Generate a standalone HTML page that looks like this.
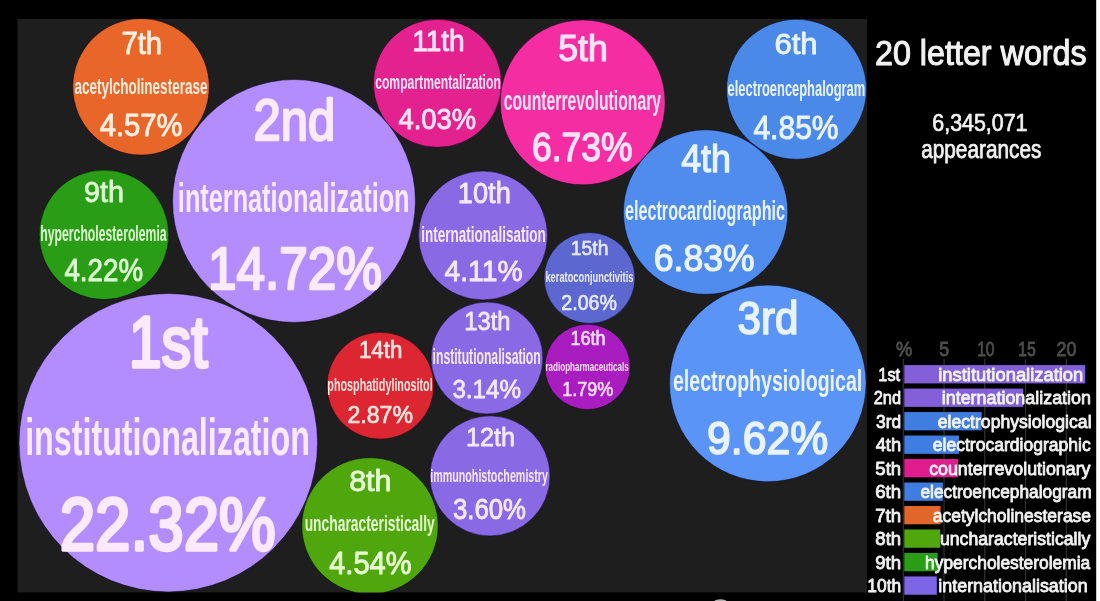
<!DOCTYPE html>
<html lang="en"><head><meta charset="utf-8"><title>20 letter words</title>
<style>
html,body{margin:0;padding:0;background:#000;overflow:hidden}
svg{display:block;font-family:"Liberation Sans",sans-serif}
</style></head>
<body>
<svg width="1100" height="601" viewBox="0 0 1100 601">
<defs><filter id="soft" x="-2%" y="-2%" width="104%" height="104%"><feGaussianBlur stdDeviation="0.45"/></filter><clipPath id="panel"><rect x="17.6" y="19" width="849.4" height="573.4"/></clipPath></defs>
<rect x="0" y="0" width="1100" height="601" fill="#000"/>
<rect x="17.6" y="19" width="849.4" height="573.4" fill="#1e1e1f"/>
<g filter="url(#soft)">
<g clip-path="url(#panel)">
<circle cx="141" cy="86.8" r="68.25" fill="#e8662a" stroke="rgba(4,2,22,0.55)" stroke-width="0.9"/>
<circle cx="437.4" cy="83.3" r="64.05" fill="#e3208f" stroke="rgba(4,2,22,0.55)" stroke-width="0.9"/>
<circle cx="582.7" cy="102.4" r="82.45" fill="#f42fa2" stroke="rgba(4,2,22,0.55)" stroke-width="0.9"/>
<circle cx="796.5" cy="89.3" r="69.95" fill="#4c89e8" stroke="rgba(4,2,22,0.55)" stroke-width="0.9"/>
<circle cx="104" cy="234.8" r="64.75" fill="#2a9d12" stroke="rgba(4,2,22,0.55)" stroke-width="0.9"/>
<circle cx="294" cy="201" r="121.45" fill="#b38dfd" stroke="rgba(4,2,22,0.55)" stroke-width="0.9"/>
<circle cx="483" cy="235.5" r="64.45" fill="#8a69e5" stroke="rgba(4,2,22,0.55)" stroke-width="0.9"/>
<circle cx="589.5" cy="278" r="45.45" fill="#5c68cf" stroke="rgba(4,2,22,0.55)" stroke-width="0.9"/>
<circle cx="705.6" cy="212.1" r="82.25" fill="#4f8cee" stroke="rgba(4,2,22,0.55)" stroke-width="0.9"/>
<circle cx="168.3" cy="442.7" r="149.25" fill="#b38dfd" stroke="rgba(4,2,22,0.55)" stroke-width="0.9"/>
<circle cx="380.4" cy="385.7" r="53.45" fill="#dc2830" stroke="rgba(4,2,22,0.55)" stroke-width="0.9"/>
<circle cx="487" cy="358" r="55.95" fill="#8a69e5" stroke="rgba(4,2,22,0.55)" stroke-width="0.9"/>
<circle cx="587.5" cy="366.9" r="42.65" fill="#a81fc0" stroke="rgba(4,2,22,0.55)" stroke-width="0.9"/>
<circle cx="767.8" cy="383.4" r="98.30" fill="#5a94f6" stroke="rgba(4,2,22,0.55)" stroke-width="0.9"/>
<circle cx="490" cy="475.9" r="60.05" fill="#8a69e5" stroke="rgba(4,2,22,0.55)" stroke-width="0.9"/>
<circle cx="370" cy="525.9" r="68.15" fill="#4fa710" stroke="rgba(4,2,22,0.55)" stroke-width="0.9"/>
</g>
<g>
<text x="128.63" y="367.00" font-size="72.54" font-weight="normal" textLength="79.14" lengthAdjust="spacingAndGlyphs" fill="#fbe9fd" stroke="#fbe9fd" stroke-width="3.34" stroke-linejoin="round">1st</text>
<text x="25.13" y="455.40" font-size="50.96" font-weight="bold" textLength="284.77" lengthAdjust="spacingAndGlyphs" fill="#fbe9fd">institutionalization</text>
<text x="59.70" y="550.00" font-size="73.19" font-weight="normal" textLength="216.02" lengthAdjust="spacingAndGlyphs" fill="#fbe9fd" stroke="#fbe9fd" stroke-width="3.37" stroke-linejoin="round">22.32%</text>
<text x="253.50" y="139.80" font-size="57.07" font-weight="normal" textLength="81.68" lengthAdjust="spacingAndGlyphs" fill="#fbe9fd" stroke="#fbe9fd" stroke-width="2.40" stroke-linejoin="round">2nd</text>
<text x="177.87" y="211.70" font-size="40.27" font-weight="bold" textLength="231.68" lengthAdjust="spacingAndGlyphs" fill="#fbe9fd">internationalization</text>
<text x="208.10" y="288.70" font-size="59.03" font-weight="normal" textLength="173.76" lengthAdjust="spacingAndGlyphs" fill="#fbe9fd" stroke="#fbe9fd" stroke-width="2.48" stroke-linejoin="round">14.72%</text>
<text x="737.59" y="334.00" font-size="46.49" font-weight="normal" textLength="60.84" lengthAdjust="spacingAndGlyphs" fill="#e8f3ff" stroke="#e8f3ff" stroke-width="1.72" stroke-linejoin="round">3rd</text>
<text x="672.97" y="391.00" font-size="30.14" font-weight="bold" textLength="189.29" lengthAdjust="spacingAndGlyphs" fill="#e8f3ff">electrophysiological</text>
<text x="707.09" y="453.70" font-size="46.81" font-weight="normal" textLength="121.02" lengthAdjust="spacingAndGlyphs" fill="#e8f3ff" stroke="#e8f3ff" stroke-width="1.73" stroke-linejoin="round">9.62%</text>
<text x="681.15" y="171.50" font-size="39.19" font-weight="normal" textLength="49.79" lengthAdjust="spacingAndGlyphs" fill="#e8f3ff" stroke="#e8f3ff" stroke-width="1.33" stroke-linejoin="round">4th</text>
<text x="624.97" y="220.30" font-size="27.12" font-weight="bold" textLength="160.07" lengthAdjust="spacingAndGlyphs" fill="#e8f3ff">electrocardiographic</text>
<text x="653.82" y="270.60" font-size="36.39" font-weight="normal" textLength="100.85" lengthAdjust="spacingAndGlyphs" fill="#e8f3ff" stroke="#e8f3ff" stroke-width="1.20" stroke-linejoin="round">6.83%</text>
<text x="558.17" y="60.50" font-size="37.03" font-weight="normal" textLength="49.56" lengthAdjust="spacingAndGlyphs" fill="#ffe2f3" stroke="#ffe2f3" stroke-width="1.22" stroke-linejoin="round">5th</text>
<text x="503.78" y="110.00" font-size="28.36" font-weight="bold" textLength="157.22" lengthAdjust="spacingAndGlyphs" fill="#ffe2f3">counterrevolutionary</text>
<text x="532.03" y="160.60" font-size="39.72" font-weight="normal" textLength="100.65" lengthAdjust="spacingAndGlyphs" fill="#ffe2f3" stroke="#ffe2f3" stroke-width="1.35" stroke-linejoin="round">6.73%</text>
<text x="774.42" y="53.50" font-size="29.05" font-weight="normal" textLength="43.16" lengthAdjust="spacingAndGlyphs" fill="#e8f3ff" stroke="#e8f3ff" stroke-width="0.87" stroke-linejoin="round">6th</text>
<text x="727.54" y="95.50" font-size="22.33" font-weight="bold" textLength="137.65" lengthAdjust="spacingAndGlyphs" fill="#e8f3ff">electroencephalogram</text>
<text x="753.42" y="139.20" font-size="33.33" font-weight="normal" textLength="85.15" lengthAdjust="spacingAndGlyphs" fill="#e8f3ff" stroke="#e8f3ff" stroke-width="1.03" stroke-linejoin="round">4.85%</text>
<text x="121.48" y="53.70" font-size="31.35" font-weight="normal" textLength="40.64" lengthAdjust="spacingAndGlyphs" fill="#ffeede" stroke="#ffeede" stroke-width="0.97" stroke-linejoin="round">7th</text>
<text x="74.56" y="93.70" font-size="22.19" font-weight="bold" textLength="132.89" lengthAdjust="spacingAndGlyphs" fill="#ffeede">acetylcholinesterase</text>
<text x="99.72" y="135.70" font-size="31.27" font-weight="normal" textLength="82.83" lengthAdjust="spacingAndGlyphs" fill="#ffeede" stroke="#ffeede" stroke-width="0.94" stroke-linejoin="round">4.57%</text>
<text x="349.15" y="491.00" font-size="28.78" font-weight="normal" textLength="42.40" lengthAdjust="spacingAndGlyphs" fill="#e6fbd2" stroke="#e6fbd2" stroke-width="0.86" stroke-linejoin="round">8th</text>
<text x="304.63" y="531.00" font-size="21.51" font-weight="bold" textLength="130.07" lengthAdjust="spacingAndGlyphs" fill="#e6fbd2">uncharacteristically</text>
<text x="329.23" y="573.50" font-size="31.69" font-weight="normal" textLength="82.32" lengthAdjust="spacingAndGlyphs" fill="#e6fbd2" stroke="#e6fbd2" stroke-width="0.98" stroke-linejoin="round">4.54%</text>
<text x="84.07" y="202.00" font-size="30.14" font-weight="normal" textLength="40.00" lengthAdjust="spacingAndGlyphs" fill="#dcfad2" stroke="#dcfad2" stroke-width="0.90" stroke-linejoin="round">9th</text>
<text x="40.36" y="241.00" font-size="22.60" font-weight="bold" textLength="126.24" lengthAdjust="spacingAndGlyphs" fill="#dcfad2">hypercholesterolemia</text>
<text x="64.44" y="281.20" font-size="31.25" font-weight="normal" textLength="78.59" lengthAdjust="spacingAndGlyphs" fill="#dcfad2" stroke="#dcfad2" stroke-width="0.97" stroke-linejoin="round">4.22%</text>
<text x="457.82" y="202.50" font-size="29.05" font-weight="normal" textLength="53.00" lengthAdjust="spacingAndGlyphs" fill="#f6e7ff" stroke="#f6e7ff" stroke-width="0.87" stroke-linejoin="round">10th</text>
<text x="421.17" y="242.00" font-size="21.92" font-weight="bold" textLength="124.66" lengthAdjust="spacingAndGlyphs" fill="#f6e7ff">internationalisation</text>
<text x="444.54" y="281.00" font-size="30.28" font-weight="normal" textLength="77.98" lengthAdjust="spacingAndGlyphs" fill="#f6e7ff" stroke="#f6e7ff" stroke-width="0.91" stroke-linejoin="round">4.11%</text>
<text x="412.14" y="51.40" font-size="30.41" font-weight="normal" textLength="52.57" lengthAdjust="spacingAndGlyphs" fill="#ffe2f3" stroke="#ffe2f3" stroke-width="0.94" stroke-linejoin="round">11th</text>
<text x="375.18" y="88.70" font-size="19.86" font-weight="bold" textLength="125.66" lengthAdjust="spacingAndGlyphs" fill="#ffe2f3">compartmentalization</text>
<text x="398.54" y="128.70" font-size="29.72" font-weight="normal" textLength="77.58" lengthAdjust="spacingAndGlyphs" fill="#ffe2f3" stroke="#ffe2f3" stroke-width="0.89" stroke-linejoin="round">4.03%</text>
<text x="465.95" y="445.50" font-size="26.08" font-weight="normal" textLength="48.98" lengthAdjust="spacingAndGlyphs" fill="#f6e7ff" stroke="#f6e7ff" stroke-width="0.78" stroke-linejoin="round">12th</text>
<text x="430.21" y="481.50" font-size="19.18" font-weight="bold" textLength="117.79" lengthAdjust="spacingAndGlyphs" fill="#f6e7ff">immunohistochemistry</text>
<text x="452.89" y="518.50" font-size="29.86" font-weight="normal" textLength="73.10" lengthAdjust="spacingAndGlyphs" fill="#f6e7ff" stroke="#f6e7ff" stroke-width="0.90" stroke-linejoin="round">3.60%</text>
<text x="464.34" y="329.50" font-size="26.08" font-weight="normal" textLength="46.11" lengthAdjust="spacingAndGlyphs" fill="#f6e7ff" stroke="#f6e7ff" stroke-width="0.78" stroke-linejoin="round">13th</text>
<text x="432.60" y="363.50" font-size="21.92" font-weight="bold" textLength="108.12" lengthAdjust="spacingAndGlyphs" fill="#f6e7ff">institutionalisation</text>
<text x="452.43" y="398.00" font-size="26.39" font-weight="normal" textLength="68.53" lengthAdjust="spacingAndGlyphs" fill="#f6e7ff" stroke="#f6e7ff" stroke-width="0.79" stroke-linejoin="round">3.14%</text>
<text x="358.93" y="358.00" font-size="23.51" font-weight="normal" textLength="43.36" lengthAdjust="spacingAndGlyphs" fill="#ffe3e0" stroke="#ffe3e0" stroke-width="0.71" stroke-linejoin="round">14th</text>
<text x="327.30" y="391.20" font-size="18.77" font-weight="bold" textLength="105.41" lengthAdjust="spacingAndGlyphs" fill="#ffe3e0">phosphatidylinositol</text>
<text x="347.54" y="423.00" font-size="24.17" font-weight="normal" textLength="65.40" lengthAdjust="spacingAndGlyphs" fill="#ffe3e0" stroke="#ffe3e0" stroke-width="0.72" stroke-linejoin="round">2.87%</text>
<text x="570.81" y="255.00" font-size="19.59" font-weight="normal" textLength="37.63" lengthAdjust="spacingAndGlyphs" fill="#e6e9ff" stroke="#e6e9ff" stroke-width="0.59" stroke-linejoin="round">15th</text>
<text x="545.41" y="282.00" font-size="14.38" font-weight="bold" textLength="88.03" lengthAdjust="spacingAndGlyphs" fill="#e6e9ff">keratoconjunctivitis</text>
<text x="561.35" y="309.50" font-size="21.53" font-weight="normal" textLength="55.52" lengthAdjust="spacingAndGlyphs" fill="#e6e9ff" stroke="#e6e9ff" stroke-width="0.65" stroke-linejoin="round">2.06%</text>
<text x="570.38" y="345.00" font-size="19.46" font-weight="normal" textLength="35.30" lengthAdjust="spacingAndGlyphs" fill="#f8dcfb" stroke="#f8dcfb" stroke-width="0.58" stroke-linejoin="round">16th</text>
<text x="545.44" y="370.50" font-size="12.33" font-weight="bold" textLength="83.33" lengthAdjust="spacingAndGlyphs" fill="#f8dcfb">radiopharmaceuticals</text>
<text x="562.20" y="396.00" font-size="19.44" font-weight="normal" textLength="50.94" lengthAdjust="spacingAndGlyphs" fill="#f8dcfb" stroke="#f8dcfb" stroke-width="0.58" stroke-linejoin="round">1.79%</text>
</g>
<g>
<text x="874.94" y="64.50" font-size="35.33" font-weight="normal" textLength="211.76" lengthAdjust="spacingAndGlyphs" fill="#f2f2f2" stroke="#f2f2f2" stroke-width="1.06" stroke-linejoin="round">20 letter words</text>
<text x="932.31" y="131.40" font-size="23.19" font-weight="normal" textLength="95.13" lengthAdjust="spacingAndGlyphs" fill="#f2f2f2" stroke="#f2f2f2" stroke-width="0.70" stroke-linejoin="round">6,345,071</text>
<text x="921.20" y="158.00" font-size="25.00" font-weight="normal" textLength="120.20" lengthAdjust="spacingAndGlyphs" fill="#f2f2f2" stroke="#f2f2f2" stroke-width="0.75" stroke-linejoin="round">appearances</text>
<text x="895.90" y="355.70" font-size="20.42" font-weight="normal" textLength="16.19" lengthAdjust="spacingAndGlyphs" fill="#4e4e4e" stroke="#4e4e4e" stroke-width="0.82" stroke-linejoin="round">%</text>
<text x="939.23" y="355.70" font-size="20.42" font-weight="normal" textLength="9.96" lengthAdjust="spacingAndGlyphs" fill="#4e4e4e" stroke="#4e4e4e" stroke-width="0.82" stroke-linejoin="round">5</text>
<text x="977.13" y="355.70" font-size="20.14" font-weight="normal" textLength="17.36" lengthAdjust="spacingAndGlyphs" fill="#4e4e4e" stroke="#4e4e4e" stroke-width="0.81" stroke-linejoin="round">10</text>
<text x="1018.11" y="355.70" font-size="20.42" font-weight="normal" textLength="17.74" lengthAdjust="spacingAndGlyphs" fill="#4e4e4e" stroke="#4e4e4e" stroke-width="0.82" stroke-linejoin="round">15</text>
<text x="1056.47" y="355.70" font-size="20.14" font-weight="normal" textLength="19.86" lengthAdjust="spacingAndGlyphs" fill="#4e4e4e" stroke="#4e4e4e" stroke-width="0.81" stroke-linejoin="round">20</text>
<rect x="904.3" y="365.10" width="180.91" height="18.3" fill="#8360da"/>
<rect x="904.3" y="388.58" width="118.97" height="18.3" fill="#8360da"/>
<rect x="904.3" y="412.06" width="77.40" height="18.3" fill="#3f7de0"/>
<rect x="904.3" y="435.54" width="54.66" height="18.3" fill="#3f7de0"/>
<rect x="904.3" y="459.02" width="53.85" height="18.3" fill="#e01f8e"/>
<rect x="904.3" y="482.50" width="38.53" height="18.3" fill="#3f7de0"/>
<rect x="904.3" y="505.98" width="36.25" height="18.3" fill="#e0662a"/>
<rect x="904.3" y="529.46" width="36.00" height="18.3" fill="#4fa710"/>
<rect x="904.3" y="552.94" width="33.39" height="18.3" fill="#2a9d12"/>
<rect x="904.3" y="576.42" width="32.50" height="18.3" fill="#7c66e6"/>
<rect x="902.70" y="359" width="1.2" height="242" fill="#6e6e6e" opacity="0.45"/>
<rect x="943.45" y="359" width="1.2" height="242" fill="#6e6e6e" opacity="0.45"/>
<rect x="984.20" y="359" width="1.2" height="242" fill="#6e6e6e" opacity="0.45"/>
<rect x="1024.95" y="359" width="1.2" height="242" fill="#6e6e6e" opacity="0.45"/>
<rect x="1065.70" y="359" width="1.2" height="242" fill="#6e6e6e" opacity="0.45"/>
<text x="878.33" y="380.80" font-size="19.15" font-weight="normal" textLength="21.82" lengthAdjust="spacingAndGlyphs" fill="#f2f2f2" stroke="#f2f2f2" stroke-width="0.86" stroke-linejoin="round">1st</text>
<text x="938.27" y="380.80" font-size="18.13" font-weight="normal" textLength="145.05" lengthAdjust="spacingAndGlyphs" fill="#f2f2f2" stroke="#f2f2f2" stroke-width="0.82" stroke-linejoin="round">institutionalization</text>
<text x="873.74" y="404.28" font-size="18.13" font-weight="normal" textLength="27.34" lengthAdjust="spacingAndGlyphs" fill="#f2f2f2" stroke="#f2f2f2" stroke-width="0.82" stroke-linejoin="round">2nd</text>
<text x="941.75" y="404.28" font-size="18.13" font-weight="normal" textLength="149.19" lengthAdjust="spacingAndGlyphs" fill="#f2f2f2" stroke="#f2f2f2" stroke-width="0.82" stroke-linejoin="round">internationalization</text>
<text x="876.11" y="427.76" font-size="18.13" font-weight="normal" textLength="25.04" lengthAdjust="spacingAndGlyphs" fill="#f2f2f2" stroke="#f2f2f2" stroke-width="0.82" stroke-linejoin="round">3rd</text>
<text x="937.74" y="427.76" font-size="18.13" font-weight="normal" textLength="153.83" lengthAdjust="spacingAndGlyphs" fill="#f2f2f2" stroke="#f2f2f2" stroke-width="0.82" stroke-linejoin="round">electrophysiological</text>
<text x="875.70" y="451.24" font-size="18.13" font-weight="normal" textLength="25.46" lengthAdjust="spacingAndGlyphs" fill="#f2f2f2" stroke="#f2f2f2" stroke-width="0.82" stroke-linejoin="round">4th</text>
<text x="932.74" y="451.24" font-size="18.13" font-weight="normal" textLength="158.06" lengthAdjust="spacingAndGlyphs" fill="#f2f2f2" stroke="#f2f2f2" stroke-width="0.82" stroke-linejoin="round">electrocardiographic</text>
<text x="875.36" y="474.72" font-size="18.13" font-weight="normal" textLength="25.82" lengthAdjust="spacingAndGlyphs" fill="#f2f2f2" stroke="#f2f2f2" stroke-width="0.82" stroke-linejoin="round">5th</text>
<text x="929.13" y="474.72" font-size="18.13" font-weight="normal" textLength="161.40" lengthAdjust="spacingAndGlyphs" fill="#f2f2f2" stroke="#f2f2f2" stroke-width="0.82" stroke-linejoin="round">counterrevolutionary</text>
<text x="875.18" y="498.20" font-size="18.13" font-weight="normal" textLength="26.00" lengthAdjust="spacingAndGlyphs" fill="#f2f2f2" stroke="#f2f2f2" stroke-width="0.82" stroke-linejoin="round">6th</text>
<text x="920.41" y="498.20" font-size="18.13" font-weight="normal" textLength="171.24" lengthAdjust="spacingAndGlyphs" fill="#f2f2f2" stroke="#f2f2f2" stroke-width="0.82" stroke-linejoin="round">electroencephalogram</text>
<text x="875.18" y="521.68" font-size="18.13" font-weight="normal" textLength="26.00" lengthAdjust="spacingAndGlyphs" fill="#f2f2f2" stroke="#f2f2f2" stroke-width="0.82" stroke-linejoin="round">7th</text>
<text x="932.74" y="521.68" font-size="18.13" font-weight="normal" textLength="158.33" lengthAdjust="spacingAndGlyphs" fill="#f2f2f2" stroke="#f2f2f2" stroke-width="0.82" stroke-linejoin="round">acetylcholinesterase</text>
<text x="875.31" y="545.16" font-size="18.13" font-weight="normal" textLength="25.86" lengthAdjust="spacingAndGlyphs" fill="#f2f2f2" stroke="#f2f2f2" stroke-width="0.82" stroke-linejoin="round">8th</text>
<text x="939.95" y="545.16" font-size="18.13" font-weight="normal" textLength="150.35" lengthAdjust="spacingAndGlyphs" fill="#f2f2f2" stroke="#f2f2f2" stroke-width="0.82" stroke-linejoin="round">uncharacteristically</text>
<text x="875.22" y="568.64" font-size="18.13" font-weight="normal" textLength="25.95" lengthAdjust="spacingAndGlyphs" fill="#f2f2f2" stroke="#f2f2f2" stroke-width="0.82" stroke-linejoin="round">9th</text>
<text x="925.07" y="568.64" font-size="18.13" font-weight="normal" textLength="165.18" lengthAdjust="spacingAndGlyphs" fill="#f2f2f2" stroke="#f2f2f2" stroke-width="0.82" stroke-linejoin="round">hypercholesterolemia</text>
<text x="867.34" y="592.12" font-size="18.13" font-weight="normal" textLength="33.79" lengthAdjust="spacingAndGlyphs" fill="#f2f2f2" stroke="#f2f2f2" stroke-width="0.82" stroke-linejoin="round">10th</text>
<text x="938.25" y="592.12" font-size="18.13" font-weight="normal" textLength="149.49" lengthAdjust="spacingAndGlyphs" fill="#f2f2f2" stroke="#f2f2f2" stroke-width="0.82" stroke-linejoin="round">internationalisation</text>
</g>
</g>
<ellipse cx="720.5" cy="602" rx="6.5" ry="2.8" fill="#b0b0b0"/>
<rect x="1096.2" y="0" width="3.8" height="601" fill="#fff"/>
</svg>
</body></html>
